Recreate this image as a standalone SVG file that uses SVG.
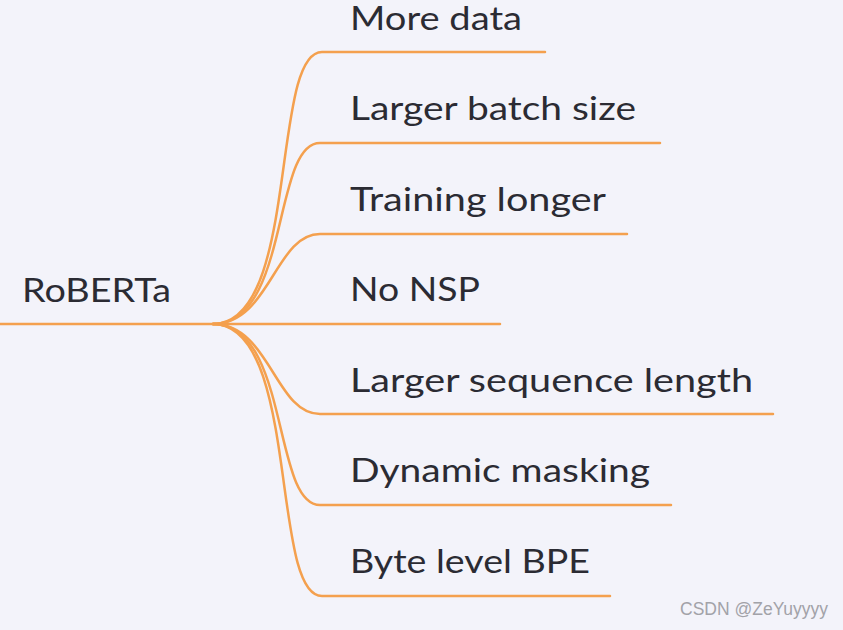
<svg xmlns="http://www.w3.org/2000/svg" width="843" height="630" viewBox="0 0 843 630">
<style>
.t{font-family:Lato,"Open Sans","Liberation Sans",sans-serif;font-size:32px;fill:#2b2b33}
.c{fill:none;stroke:#f4a04e;stroke-width:2.5;stroke-linecap:round}
.w{font-family:"Liberation Sans",Arial,sans-serif;font-size:17.5px;fill:#a2a2a8}
</style>
<rect width="843" height="630" fill="#f3f3fa"/>
<g id="connectors">
<path class="c" d="M0,324 H500"/>
<path class="c" d="M213,324 C300,324 270,52 322,52 H545"/>
<path class="c" d="M213,324 C290,324 272,143 320,143 H660"/>
<path class="c" d="M213,324 C270,324 275,234 320,234 H627"/>
<path class="c" d="M213,324 C270,324 275,414 320,414 H773"/>
<path class="c" d="M213,324 C290,324 272,505 320,505 H671"/>
<path class="c" d="M213,324 C300,324 270,596 322,596 H610"/>
</g>
<g id="root"><text class="t" x="22" y="302" textLength="149" lengthAdjust="spacingAndGlyphs">RoBERTa</text></g>
<g id="n1"><text class="t" x="350" y="30" textLength="172" lengthAdjust="spacingAndGlyphs">More data</text></g>
<g id="n2"><text class="t" x="350" y="120" textLength="286" lengthAdjust="spacingAndGlyphs">Larger batch size</text></g>
<g id="n3"><text class="t" x="350" y="211" textLength="256" lengthAdjust="spacingAndGlyphs">Training longer</text></g>
<g id="n4"><text class="t" x="350" y="301" textLength="130" lengthAdjust="spacingAndGlyphs">No NSP</text></g>
<g id="n5"><text class="t" x="350" y="392" textLength="403" lengthAdjust="spacingAndGlyphs">Larger sequence length</text></g>
<g id="n6"><text class="t" x="350" y="482" textLength="300" lengthAdjust="spacingAndGlyphs">Dynamic masking</text></g>
<g id="n7"><text class="t" x="350" y="573" textLength="240" lengthAdjust="spacingAndGlyphs">Byte level BPE</text></g>
<text class="w" x="680" y="615">CSDN @ZeYuyyyy</text>
</svg>
